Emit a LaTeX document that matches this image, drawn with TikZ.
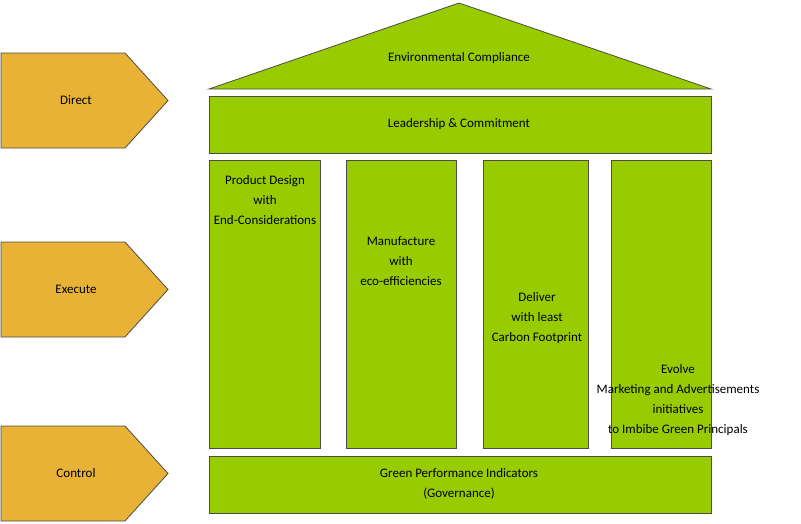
\documentclass[tikz,border=0pt]{standalone}
\usepackage{fontspec}
\setmainfont{Carlito}
\begin{document}
\begin{tikzpicture}[x=1pt,y=-1pt,
  box/.style={fill=grn,draw=black!70,line width=0.8pt},
  arr/.style={fill=org,draw=black!70,line width=0.8pt},
  lbl/.style={font=\fontsize{13}{20}\selectfont,align=center,inner sep=0pt}]
\definecolor{grn}{HTML}{99CC00}
\definecolor{org}{HTML}{E8B236}
\useasboundingbox (0,0) rectangle (801,523);
\draw[box] (209,89) -- (459,3) -- (711,89) -- cycle;
\node[lbl] (env) at (459,58) {Environmental Compliance};
\draw[box] (209,96) rectangle (711,153);
\node[lbl] (lead) at (459,124) {Leadership \& Commitment};
\draw[box] (209,160) rectangle (320,448);
\draw[box] (346,160) rectangle (456,448);
\draw[box] (483,160) rectangle (588,448);
\draw[box] (611,160) rectangle (711,448);
\node[lbl] (p1) at (265,200) {Product Design\\with\\End-Considerations};
\node[lbl] (p2) at (401,261) {Manufacture\\with\\eco-efficiencies};
\node[lbl] (p3) at (537,318) {Deliver\\with least\\Carbon Footprint};
\node[lbl] (p4) at (678,400) {Evolve\\Marketing and Advertisements\\initiatives\\to Imbibe Green Principals};
\draw[box] (209,456) rectangle (711,513);
\node[lbl] (gpi) at (459,484) {Green Performance Indicators\\(Governance)};
\foreach \y/\t in {53/Direct,242/Execute,426/Control}{
  \draw[arr] (1,\y) -- (125,\y) -- (168,\y+47.5) -- (125,\y+95) -- (1,\y+95) -- cycle;
  \node[lbl] at (76,\y+47.5) {\t};
}
\end{tikzpicture}
\end{document}
